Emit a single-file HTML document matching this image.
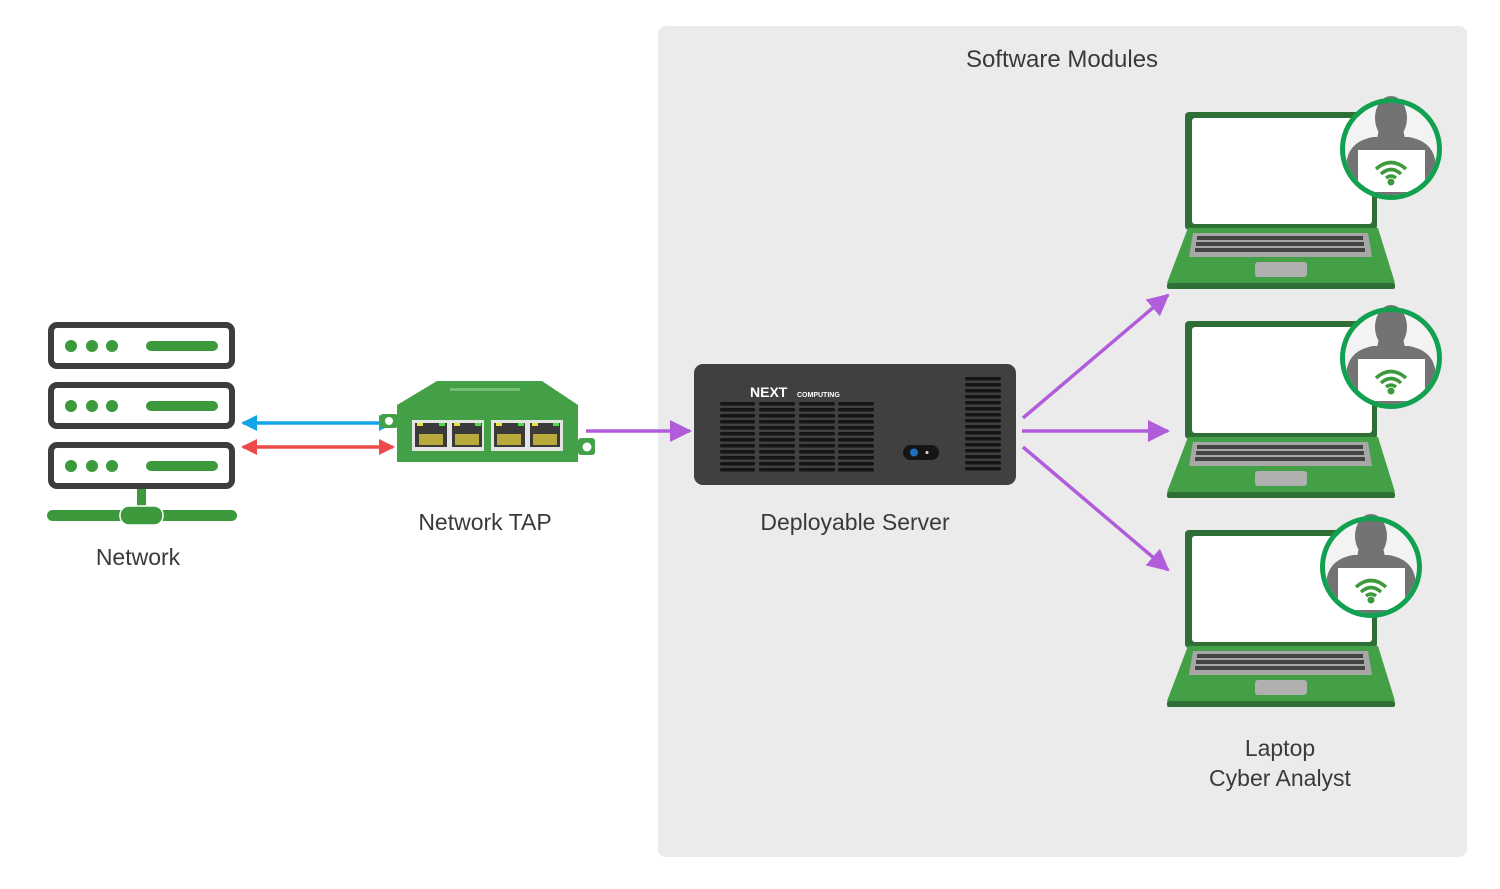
<!DOCTYPE html>
<html><head><meta charset="utf-8"><style>
html,body{margin:0;padding:0;background:#fff;width:1500px;height:889px;overflow:hidden}
svg{display:block}
text{font-family:"Liberation Sans","DejaVu Sans",sans-serif;fill:#3a3a3a}
</style></head><body>
<svg width="1500" height="889" viewBox="0 0 1500 889" xmlns="http://www.w3.org/2000/svg">
<defs>
<marker id="ab" markerWidth="16" markerHeight="16" refX="14" refY="8" orient="auto-start-reverse" markerUnits="userSpaceOnUse"><path d="M0,0 L16,8 L0,16z" fill="#13a4e8"/></marker>
<marker id="ar" markerWidth="16" markerHeight="16" refX="14" refY="8" orient="auto-start-reverse" markerUnits="userSpaceOnUse"><path d="M0,0 L16,8 L0,16z" fill="#ee4a4a"/></marker>
<marker id="ap" markerWidth="22" markerHeight="22" refX="20" refY="11" orient="auto" markerUnits="userSpaceOnUse"><path d="M0,0 L22,11 L0,22z" fill="#b15ddb"/></marker>
<g id="lap">
<rect x="1185" y="112" width="192" height="118" rx="4" fill="#2f6e35"/>
<rect x="1192" y="118" width="180" height="106" rx="3" fill="#fff"/>
<path d="M1188,228 L1378,228 L1395,283 L1167,283z" fill="#43a047"/>
<rect x="1167" y="283" width="228" height="6" rx="2" fill="#2f6e35"/>
<path d="M1193,233 L1368,233 L1372,257 L1189,257z" fill="#a7a7a7"/>
<g fill="#444">
<rect x="1197" y="236" width="166" height="4"/><rect x="1196" y="242" width="168" height="4"/><rect x="1195" y="248" width="170" height="4"/>
</g>
<rect x="1255" y="262" width="52" height="15" rx="3" fill="#b0b0b0"/>
</g>
<clipPath id="cc"><circle cx="0" cy="0" r="46"/></clipPath>
<g id="per">
<g clip-path="url(#cc)">
<circle cx="0" cy="0" r="46" fill="#f3f3f3"/>
<path d="M-48,60 L-44,10 Q-40,-8 -18,-12 L18,-12 Q40,-8 44,10 L48,60z" fill="#737373"/>
<rect x="-33" y="1" width="67" height="42" fill="#fff"/>
</g>
<ellipse cx="0" cy="-31" rx="16" ry="22" fill="#737373"/>
<path d="M-12,-20 L12,-20 L14,-10 L-14,-10z" fill="#737373"/>
<circle cx="0" cy="0" r="48.5" fill="none" stroke="#12a150" stroke-width="5"/>
<path d="M-15,20 Q0,7 15,20" fill="none" stroke="#3c9a3c" stroke-width="3.5"/>
<path d="M-10,25 Q0,16 10,25" fill="none" stroke="#3c9a3c" stroke-width="3.5"/>
<path d="M-5,29 Q0,25 5,29" fill="none" stroke="#3c9a3c" stroke-width="3.5"/>
<circle cx="0" cy="33" r="3.5" fill="#3c9a3c"/>
</g>
</defs>

<rect x="658" y="26" width="809" height="831" rx="8" fill="#ebebeb"/>
<text x="1062" y="67" text-anchor="middle" style="font-size:24px">Software Modules</text>

<!-- network -->
<g fill="#fff" stroke="#3d3d3d" stroke-width="6">
<rect x="51" y="325" width="181" height="41" rx="6"/>
<rect x="51" y="385" width="181" height="41" rx="6"/>
<rect x="51" y="445" width="181" height="41" rx="6"/>
</g>
<g fill="#3c9a3c">
<circle cx="71" cy="346" r="6"/><circle cx="92" cy="346" r="6"/><circle cx="112" cy="346" r="6"/><rect x="146" y="341" width="72" height="10" rx="5"/>
<circle cx="71" cy="406" r="6"/><circle cx="92" cy="406" r="6"/><circle cx="112" cy="406" r="6"/><rect x="146" y="401" width="72" height="10" rx="5"/>
<circle cx="71" cy="466" r="6"/><circle cx="92" cy="466" r="6"/><circle cx="112" cy="466" r="6"/><rect x="146" y="461" width="72" height="10" rx="5"/>
<rect x="137" y="489" width="9" height="20"/>
<rect x="47" y="510" width="190" height="11" rx="5.5"/>
<rect x="120" y="506" width="43" height="19" rx="9" stroke="#fff" stroke-width="1.5"/>
</g>
<text x="138" y="565" text-anchor="middle" style="font-size:23px">Network</text>

<!-- arrows left -->
<line x1="243" y1="423" x2="393" y2="423" stroke="#13a4e8" stroke-width="3.5" marker-start="url(#ab)" marker-end="url(#ab)"/>
<line x1="243" y1="447" x2="393" y2="447" stroke="#ee4a4a" stroke-width="3.5" marker-start="url(#ar)" marker-end="url(#ar)"/>

<!-- TAP -->
<g>
<rect x="380" y="414" width="18" height="14" rx="3" fill="#43a047"/>
<circle cx="389" cy="421" r="4" fill="#fff"/>
<rect x="578" y="438" width="17" height="17" rx="3" fill="#43a047"/>
<circle cx="587" cy="447" r="4.5" fill="#fff"/>
<path d="M437,381 L542,381 L578,405 L397,405z" fill="#43a047"/>
<rect x="397" y="405" width="181" height="57" fill="#43a047"/>
<rect x="450" y="388" width="70" height="3" fill="#8cc98c" opacity=".7"/>
<rect x="412" y="420" width="72" height="31" fill="#e4e4e4"/>
<rect x="491" y="420" width="72" height="31" fill="#e4e4e4"/>
<g fill="#3a3a3a">
<rect x="415" y="423" width="32" height="24"/><rect x="452" y="423" width="30" height="24"/>
<rect x="494" y="423" width="31" height="24"/><rect x="530" y="423" width="30" height="24"/>
</g>
<g fill="#e7df3a"><rect x="417" y="423" width="6" height="3"/><rect x="454" y="423" width="6" height="3"/><rect x="496" y="423" width="6" height="3"/><rect x="532" y="423" width="6" height="3"/></g>
<g fill="#4ce04c"><rect x="439" y="423" width="6" height="3"/><rect x="475" y="423" width="6" height="3"/><rect x="518" y="423" width="6" height="3"/><rect x="553" y="423" width="6" height="3"/></g>
<g fill="#b7a93a"><rect x="419" y="434" width="24" height="11"/><rect x="455" y="434" width="24" height="11"/><rect x="497" y="434" width="24" height="11"/><rect x="533" y="434" width="24" height="11"/></g>
</g>
<text x="485" y="530" text-anchor="middle" style="font-size:23px">Network TAP</text>

<line x1="586" y1="431" x2="690" y2="431" stroke="#b15ddb" stroke-width="3.5" marker-end="url(#ap)"/>

<!-- server -->
<rect x="694" y="364" width="322" height="121" rx="9" fill="#404040"/>
<text x="750" y="397" style="font-size:14px;font-weight:bold;fill:#fff">NEXT</text>
<text x="797" y="397" style="font-size:7px;font-weight:bold;fill:#fff">COMPUTING</text>
<g fill="#151515" id="vents">
<rect x="720" y="402" width="35" height="3.5" rx="1.5"/><rect x="759" y="402" width="36" height="3.5" rx="1.5"/><rect x="799" y="402" width="36" height="3.5" rx="1.5"/><rect x="838" y="402" width="36" height="3.5" rx="1.5"/>
</g>
<g fill="#151515">
<use href="#vents" y="6"/><use href="#vents" y="12"/><use href="#vents" y="18"/><use href="#vents" y="24"/><use href="#vents" y="30"/><use href="#vents" y="36"/><use href="#vents" y="42"/><use href="#vents" y="48"/><use href="#vents" y="54"/><use href="#vents" y="60"/><use href="#vents" y="66"/>
</g>
<g fill="#151515">
<rect x="965" y="377" width="36" height="3.5" rx="1.5"/><rect x="965" y="383" width="36" height="3.5" rx="1.5"/><rect x="965" y="389" width="36" height="3.5" rx="1.5"/><rect x="965" y="395" width="36" height="3.5" rx="1.5"/><rect x="965" y="401" width="36" height="3.5" rx="1.5"/><rect x="965" y="407" width="36" height="3.5" rx="1.5"/><rect x="965" y="413" width="36" height="3.5" rx="1.5"/><rect x="965" y="419" width="36" height="3.5" rx="1.5"/><rect x="965" y="425" width="36" height="3.5" rx="1.5"/><rect x="965" y="431" width="36" height="3.5" rx="1.5"/><rect x="965" y="437" width="36" height="3.5" rx="1.5"/><rect x="965" y="443" width="36" height="3.5" rx="1.5"/><rect x="965" y="449" width="36" height="3.5" rx="1.5"/><rect x="965" y="455" width="36" height="3.5" rx="1.5"/><rect x="965" y="461" width="36" height="3.5" rx="1.5"/><rect x="965" y="467" width="36" height="3.5" rx="1.5"/>
</g>
<rect x="903" y="445" width="36" height="15" rx="7.5" fill="#151515"/>
<circle cx="914" cy="452.5" r="4" fill="#1f6fc0"/>
<circle cx="927" cy="452.5" r="1.5" fill="#ddd"/>
<text x="855" y="530" text-anchor="middle" style="font-size:23px">Deployable Server</text>

<!-- arrows to laptops -->
<line x1="1023" y1="418" x2="1168" y2="295" stroke="#b15ddb" stroke-width="3.5" marker-end="url(#ap)"/>
<line x1="1022" y1="431" x2="1168" y2="431" stroke="#b15ddb" stroke-width="3.5" marker-end="url(#ap)"/>
<line x1="1023" y1="447" x2="1168" y2="570" stroke="#b15ddb" stroke-width="3.5" marker-end="url(#ap)"/>

<!-- laptops -->
<use href="#lap"/>
<use href="#lap" y="209"/>
<use href="#lap" y="418"/>
<use href="#per" x="1391" y="149"/>
<use href="#per" x="1391" y="358"/>
<use href="#per" x="1371" y="567"/>

<text x="1280" y="756" text-anchor="middle" style="font-size:23px">Laptop</text>
<text x="1280" y="786" text-anchor="middle" style="font-size:23px">Cyber Analyst</text>
</svg>
</body></html>
